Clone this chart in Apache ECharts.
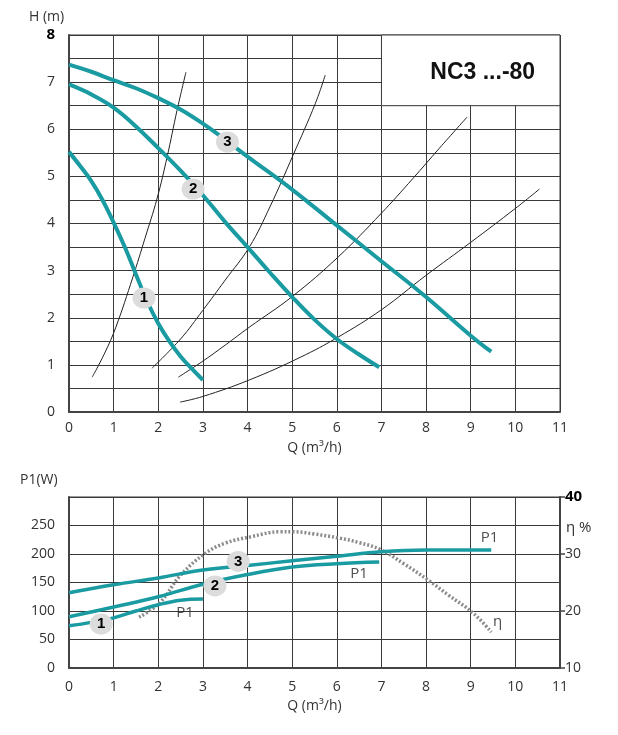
<!DOCTYPE html>
<html>
<head>
<meta charset="utf-8">
<script src="https://cdn.jsdelivr.net/npm/echarts@6.0.0/dist/echarts.min.js"></script>
<style>
  html, body { margin: 0; padding: 0; background: #fff; }
  #chart { width: 618px; height: 735px; }
</style>
</head>
<body>
<div id="chart"></div>
<script>
// pump curves H (m) vs Q (m3/h), speeds 1..3
const head1 = [[0,5.52],[0.25,5.22],[0.5,4.9],[0.75,4.5],[1.0,4.02],[1.25,3.5],[1.5,2.92],[1.75,2.35],[2.0,1.88],[2.25,1.5],[2.5,1.18],[2.75,0.92],[3.0,0.68]];
const head2 = [[0,6.95],[0.5,6.74],[1,6.46],[1.5,6.06],[2,5.6],[2.5,5.12],[3,4.6],[3.5,4.03],[4,3.5],[4.5,2.96],[5,2.44],[5.5,1.96],[6,1.55],[6.5,1.22],[6.95,0.95]];
const head3 = [[0,7.37],[0.5,7.22],[1,7.04],[1.5,6.87],[2,6.66],[2.5,6.42],[3,6.12],[3.5,5.78],[4,5.42],[5,4.72],[6,3.96],[7,3.2],[8,2.44],[9,1.62],[9.46,1.28]];

// system (pipe) curves
const sysA = [[0.52,0.74],[0.8,1.25],[1.05,1.8],[1.43,2.86],[1.7,3.68],[1.97,4.52],[2.2,5.42],[2.42,6.4],[2.62,7.21]];
const sysB = [[1.86,0.93],[2.5,1.55],[3.0,2.16],[3.5,2.8],[4.04,3.5],[4.5,4.35],[5.02,5.45],[5.52,6.55],[5.74,7.15]];
const sysC = [[2.45,0.74],[3,1.08],[3.5,1.42],[4.04,1.8],[5.0,2.45],[6.03,3.29],[7.0,4.22],[7.7,4.95],[8.3,5.6],[8.92,6.26]];
const sysD = [[2.49,0.21],[3,0.33],[4.04,0.68],[5.18,1.16],[6.03,1.59],[7.0,2.17],[8.0,2.9],[9.0,3.6],[10.0,4.32],[10.54,4.73]];

// power input P1 (W)
const power1 = [[0,74],[0.5,80],[1,88],[1.5,100],[2,111],[2.5,119],[3,121]];
const power2 = [[0,90],[1,107],[2,125],[3,147],[4,164],[5,177],[6,183],[6.95,186]];
const power3 = [[0,132],[1,146],[2,158],[3,172],[4,180],[5,188],[6,196],[7,204],[8,207],[9,207],[9.46,207]];

// efficiency (%)
const eta = [[1.57,18.9],[2.04,21.5],[2.49,26.2],[3.05,30.1],[3.5,31.9],[4.06,33.0],[4.73,33.9],[5.04,33.9],[5.5,33.5],[6.05,32.8],[6.5,32.0],[6.97,30.8],[7.5,28.3],[8.05,25.4],[8.5,22.8],[9.06,19.6],[9.46,16.3]];

// badge + text positions
const badgesTop = [[1.68,2.42,'1'],[2.78,4.73,'2'],[3.55,5.73,'3']];
const badgesBottom = [[0.72,77,'1'],[3.27,144,'2'],[3.79,187,'3']];
const p1Labels = [[2.6,97,'P1'],[6.5,166,'P1'],[9.42,229,'P1']];
const etaLabel = [[9.6,18.1,'η']];

const teal = '#1a9ba2';
const font = "'Open Sans', sans-serif";
const gridLine = { show: true, lineStyle: { color: '#3a3a3a', width: 1 } };
const frameLine = { show: true, onZero: false, lineStyle: { color: '#444', width: 2 } };

const chart = echarts.init(document.getElementById('chart'));

function headLine(data) {
    return { type: 'line', xAxisIndex: 0, yAxisIndex: 0, data: data, smooth: 0.4, symbol: 'none',
        lineStyle: { color: teal, width: 4 }, z: 3 };
}
function sysLine(data) {
    return { type: 'line', xAxisIndex: 0, yAxisIndex: 0, data: data, smooth: 0.4, symbol: 'none',
        lineStyle: { color: '#222', width: 1 }, z: 2 };
}
function powerLine(data) {
    return { type: 'line', xAxisIndex: 1, yAxisIndex: 1, data: data, smooth: 0.4, symbol: 'none',
        lineStyle: { color: teal, width: 3.5 }, z: 3 };
}
function badges(data, xi, yi) {
    return { type: 'scatter', xAxisIndex: xi, yAxisIndex: yi, data: data, symbol: 'circle', symbolSize: [23, 21],
        itemStyle: { color: '#dcdcdc', opacity: 1 }, z: 6,
        label: { show: true, position: 'inside', formatter: p => p.data[2],
            fontFamily: "'Liberation Sans', sans-serif", fontWeight: 'bold', fontSize: 15, color: '#000' } };
}
function texts(data, yi) {
    return { type: 'scatter', xAxisIndex: 1, yAxisIndex: yi, data: data, symbolSize: 1,
        itemStyle: { color: 'rgba(0,0,0,0)' }, z: 6,
        label: { show: true, position: 'inside', formatter: p => p.data[2],
            fontFamily: font, fontSize: 15, color: '#222' } };
}

const option = {
    animation: false,
    textStyle: { fontFamily: font },
    grid: [
        { left: 69, right: 58, top: 35, height: 377, show: true, borderColor: '#3a3a3a', borderWidth: 1 },
        { left: 69, right: 58, top: 497, height: 171, show: true, borderColor: '#3a3a3a', borderWidth: 1 }
    ],
    xAxis: [
        { type: 'value', gridIndex: 0, min: 0, max: 11, interval: 1,
          name: 'Q (m³/h)', nameLocation: 'middle', nameGap: 29,
          nameTextStyle: { fontSize: 14, color: '#333', fontFamily: font },
          axisLine: frameLine, axisTick: { show: false }, splitLine: gridLine,
          axisLabel: { margin: 9, fontSize: 14, color: '#333', fontFamily: font } },
        { type: 'value', gridIndex: 1, min: 0, max: 11, interval: 1,
          name: 'Q (m³/h)', nameLocation: 'middle', nameGap: 31,
          nameTextStyle: { fontSize: 14, color: '#333', fontFamily: font },
          axisLine: frameLine, axisTick: { show: false }, splitLine: gridLine,
          axisLabel: { margin: 12, fontSize: 14, color: '#333', fontFamily: font } }
    ],
    yAxis: [
        { type: 'value', gridIndex: 0, min: 0, max: 8, interval: 0.5,
          axisLine: frameLine, axisTick: { show: false }, splitLine: gridLine,
          axisLabel: { margin: 14, fontSize: 14, color: '#333', fontFamily: font,
              formatter: v => v === 8 ? '{b|8}' : (Number.isInteger(v) ? String(v) : ''),
              rich: { b: { fontWeight: 'bold', fontSize: 15, color: '#000', fontFamily: font } } } },
        { type: 'value', gridIndex: 1, min: 0, max: 300, interval: 50,
          axisLine: frameLine, axisTick: { show: false }, splitLine: gridLine,
          axisLabel: { margin: 14, fontSize: 14, color: '#333', fontFamily: font,
              formatter: v => v === 300 ? '' : String(v) } },
        { type: 'value', gridIndex: 1, min: 10, max: 40, interval: 10, position: 'right',
          axisLine: frameLine, axisTick: { show: true, length: 5, lineStyle: { color: '#444', width: 1.5 } },
          splitLine: { show: false },
          axisLabel: { margin: 5, fontSize: 14, color: '#333', fontFamily: font,
              formatter: v => v === 40 ? '{b|40}' : String(v),
              rich: { b: { fontWeight: 'bold', fontSize: 15, color: '#000', fontFamily: font } } } }
    ],
    graphic: [
        { type: 'text', left: 29, top: 10, style: { text: 'H (m)', fill: '#333', font: '14px ' + font } },
        { type: 'text', left: 20, top: 473, style: { text: 'P1(W)', fill: '#333', font: '14px ' + font } },
        { type: 'text', left: 566, top: 520, style: { text: 'η %', fill: '#333', font: '15px ' + font } }
    ],
    series: [
        sysLine(sysA), sysLine(sysB), sysLine(sysC), sysLine(sysD),
        headLine(head1), headLine(head2),
        Object.assign(headLine(head3), {
            markArea: {
                silent: true,
                itemStyle: { color: '#ffffff', opacity: 1, borderColor: '#3a3a3a', borderWidth: 1 },
                label: { show: true, position: 'inside', offset: [12, 2], formatter: 'NC3 ...-80',
                    fontFamily: "'Liberation Sans', sans-serif",
                    fontWeight: 'bold', fontSize: 23, color: '#111' },
                data: [[{ coord: [7, 6.5] }, { coord: [11, 8] }]]
            }
        }),
        badges(badgesTop, 0, 0),
        { type: 'line', xAxisIndex: 1, yAxisIndex: 2, data: eta, smooth: 0.4, symbol: 'none', z: 2,
          lineStyle: { color: '#8a8a8a', width: 3.5, type: [2, 2] } },
        powerLine(power1), powerLine(power2), powerLine(power3),
        badges(badgesBottom, 1, 1),
        texts(p1Labels, 1),
        texts(etaLabel, 2)
    ]
};

chart.setOption(option);
window.addEventListener('resize', () => chart.resize());
</script>
</body>
</html>
